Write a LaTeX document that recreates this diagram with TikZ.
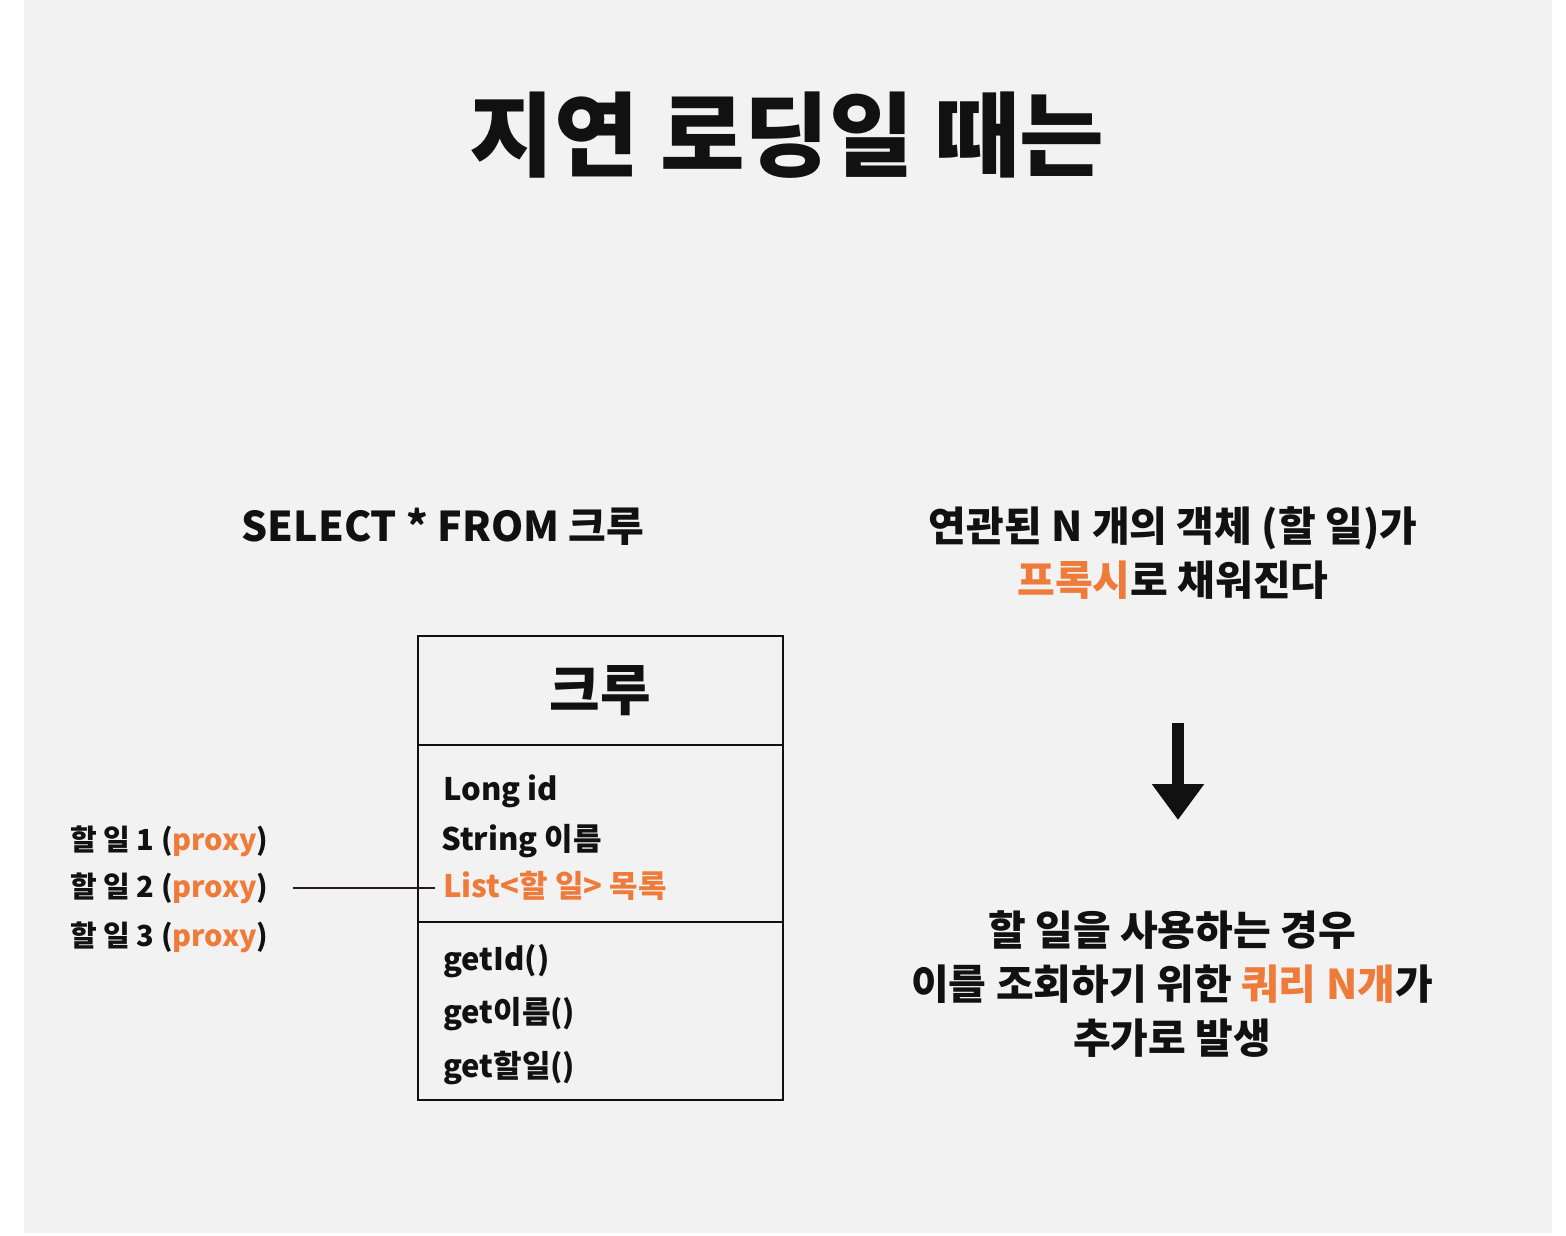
\documentclass[tikz,border=0pt]{standalone}
\usepackage{fontspec}
\setmainfont{Noto Sans CJK KR}
\usepackage{xcolor}
\usetikzlibrary{arrows.meta}
\definecolor{paper}{HTML}{F3F2F2}
\definecolor{accent}{HTML}{EE7B3A}
\definecolor{ink}{HTML}{111111}
\definecolor{linkline}{HTML}{2B1A1A}

\begin{document}
\begin{tikzpicture}[
    x=1pt, y=-1pt, % one unit per pixel, y grows downwards
    every node/.style={font=\bfseries, text=ink, inner sep=0pt}, % all texts heavy
    member/.style={anchor=base west, font=\bfseries\fontsize{31}{36}\selectfont}, % class fields and methods
    todo/.style={anchor=base west, font=\bfseries\fontsize{29}{32}\selectfont}, % proxy entries
    note/.style={align=center, font=\bfseries\fontsize{41}{54}\selectfont}, % explanations on the right
    compartment/.style={draw=ink, line width=1.2pt, minimum width=365pt}, % parts of the class box
    link/.style={linkline, line width=1.8pt}, % proxy to field
    big arrow/.style={ink, line width=12pt, -{Triangle[length=36pt, width=50pt]}} % downward arrow
]
    % --- Background ---
    \useasboundingbox (0,0) rectangle (1566,1236);
    \fill[white] (0,0) rectangle (1566,1236);
    \fill[paper] (24,0) rectangle (1552,1233);

    % --- Title and query ---
    \node[font=\bfseries\fontsize{92}{100}\selectfont] (title) at (787,135) {지연 로딩일 때는};
    \node[font=\bfseries\fontsize{41}{48}\selectfont] (query) at (443,527) {SELECT * FROM 크루};

    % --- Class box ---
    \node[compartment, minimum height=109pt, font=\bfseries\fontsize{55}{60}\selectfont] (head) at (600.5,690.5) {크루};
    \node[compartment, minimum height=177pt] (fields) at (600.5,833.5) {};
    \node[compartment, minimum height=178pt] (methods) at (600.5,1011) {};

    % Fields
    \node[member] (fid) at (443,800) {Long id};
    \node[member] (fname) at (441,850) {String 이름};
    \node[member, text=accent] (flist) at (443,897) {List<할 일> 목록};

    % Methods
    \node[member] (mid) at (443,970) {getId()};
    \node[member] (mname) at (443,1023) {get이름()};
    \node[member] (mtodo) at (443,1077) {get할일()};

    % --- Proxies on the left ---
    \node[todo] (todo1) at (70,850) {할 일 1 (\textcolor{accent}{proxy})};
    \node[todo] (todo2) at (70,897) {할 일 2 (\textcolor{accent}{proxy})};
    \node[todo] (todo3) at (70,946) {할 일 3 (\textcolor{accent}{proxy})};

    \draw[link, shorten <=24pt, shorten >=8pt] (todo2.east) -- (todo2.east -| flist.west);

    % --- Explanation on the right ---
    \node[note] (filled) at (1173,553) {연관된 N 개의 객체 (할 일)가\\\textcolor{accent}{프록시}로 채워진다};

    \coordinate (arrowtop) at (1178,723);
    \coordinate (arrowtip) at (1178,820);
    \draw[big arrow] (arrowtop) -- (arrowtip);

    \node[note] (extra) at (1172,984) {할 일을 사용하는 경우\\이를 조회하기 위한 \textcolor{accent}{쿼리 N개}가\\추가로 발생};

\end{tikzpicture}
\end{document}
